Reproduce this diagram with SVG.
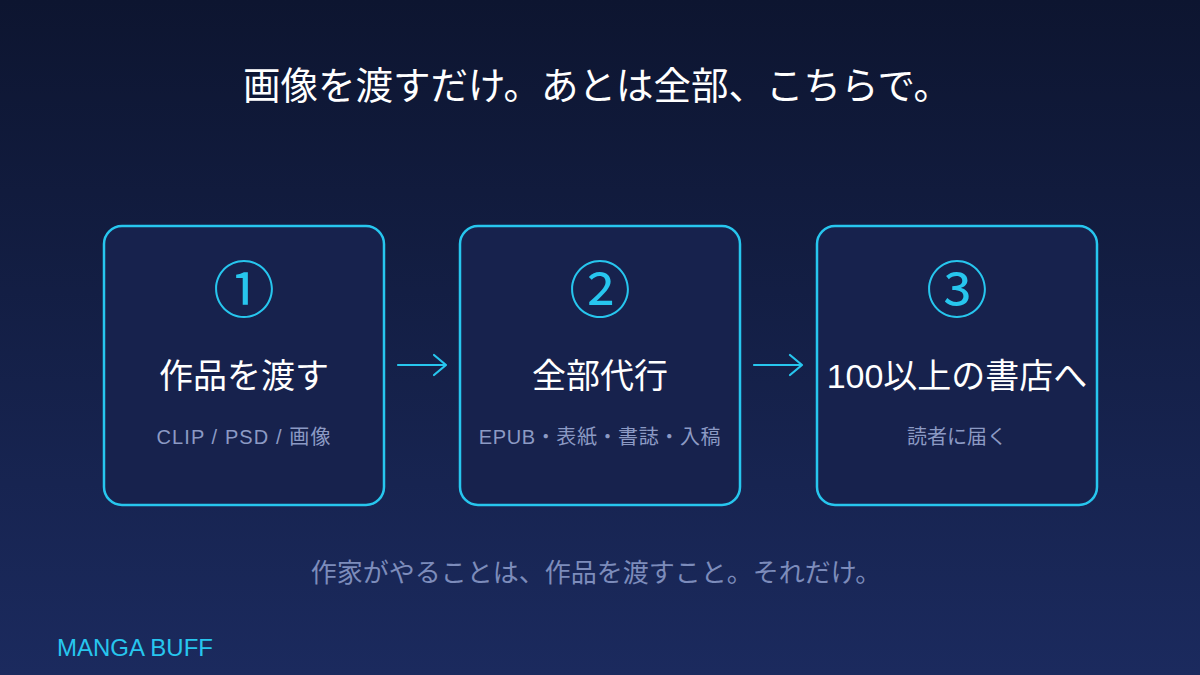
<svg xmlns="http://www.w3.org/2000/svg" width="1200" height="675" viewBox="0 0 1200 675">
<defs>
<linearGradient id="bg" x1="0" y1="0" x2="0" y2="1">
<stop offset="0" stop-color="#0d1530"/>
<stop offset="1" stop-color="#1b2a5e"/>
</linearGradient>
<style>
.box{fill:#17224d;stroke:#27c6ee;stroke-width:2.5}
.num{font-family:"Noto Sans CJK JP","Noto Sans",sans-serif;font-size:62px;fill:#27c6ee;text-anchor:middle}
.ttl{font-family:"Liberation Sans","Noto Sans CJK JP",sans-serif;font-size:34px;fill:#ffffff;text-anchor:middle}
.sub{font-family:"Liberation Sans","Noto Sans CJK JP",sans-serif;font-size:20px;fill:#8c9ac4;text-anchor:middle}
.arr{stroke:#27c6ee;stroke-width:2.2;fill:none;stroke-linecap:round;stroke-linejoin:round}
</style>
</defs>
<rect width="1200" height="675" fill="url(#bg)"/>
<text x="597" y="99" font-family="'Noto Sans CJK JP',sans-serif" font-size="37.5" fill="#ffffff" text-anchor="middle">画像を渡すだけ。あとは全部、こちらで。</text>
<g id="step1">
<rect class="box" x="104" y="226" width="280" height="279" rx="18"/>
<text class="num" x="244" y="313">①</text>
<text class="ttl" x="244" y="388">作品を渡す</text>
<text class="sub" x="244" y="444" letter-spacing="1.1">CLIP / PSD / 画像</text>
</g>
<g id="step2">
<rect class="box" x="460" y="226" width="280" height="279" rx="18"/>
<text class="num" x="600" y="313">②</text>
<text class="ttl" x="600" y="388">全部代行</text>
<text class="sub" x="600" y="444" letter-spacing="0.6">EPUB・表紙・書誌・入稿</text>
</g>
<g id="step3">
<rect class="box" x="817" y="226" width="280" height="279" rx="18"/>
<text class="num" x="957" y="313">③</text>
<text class="ttl" x="957" y="388">100以上の書店へ</text>
<text class="sub" x="957" y="444">読者に届く</text>
</g>
<g id="connectors">
<path class="arr" d="M398 365 H446 M434 355 L446 365 L434 375"/>
<path class="arr" d="M754 365 H802 M790 355 L802 365 L790 375"/>
</g>
<text x="596" y="582" font-family="'Noto Sans CJK JP',sans-serif" font-size="26" fill="#7d8cbb" text-anchor="middle">作家がやることは、作品を渡すこと。それだけ。</text>
<text x="57" y="656" font-family="'Liberation Sans',Arial,sans-serif" font-size="24" fill="#27c6ee">MANGA BUFF</text>
</svg>
